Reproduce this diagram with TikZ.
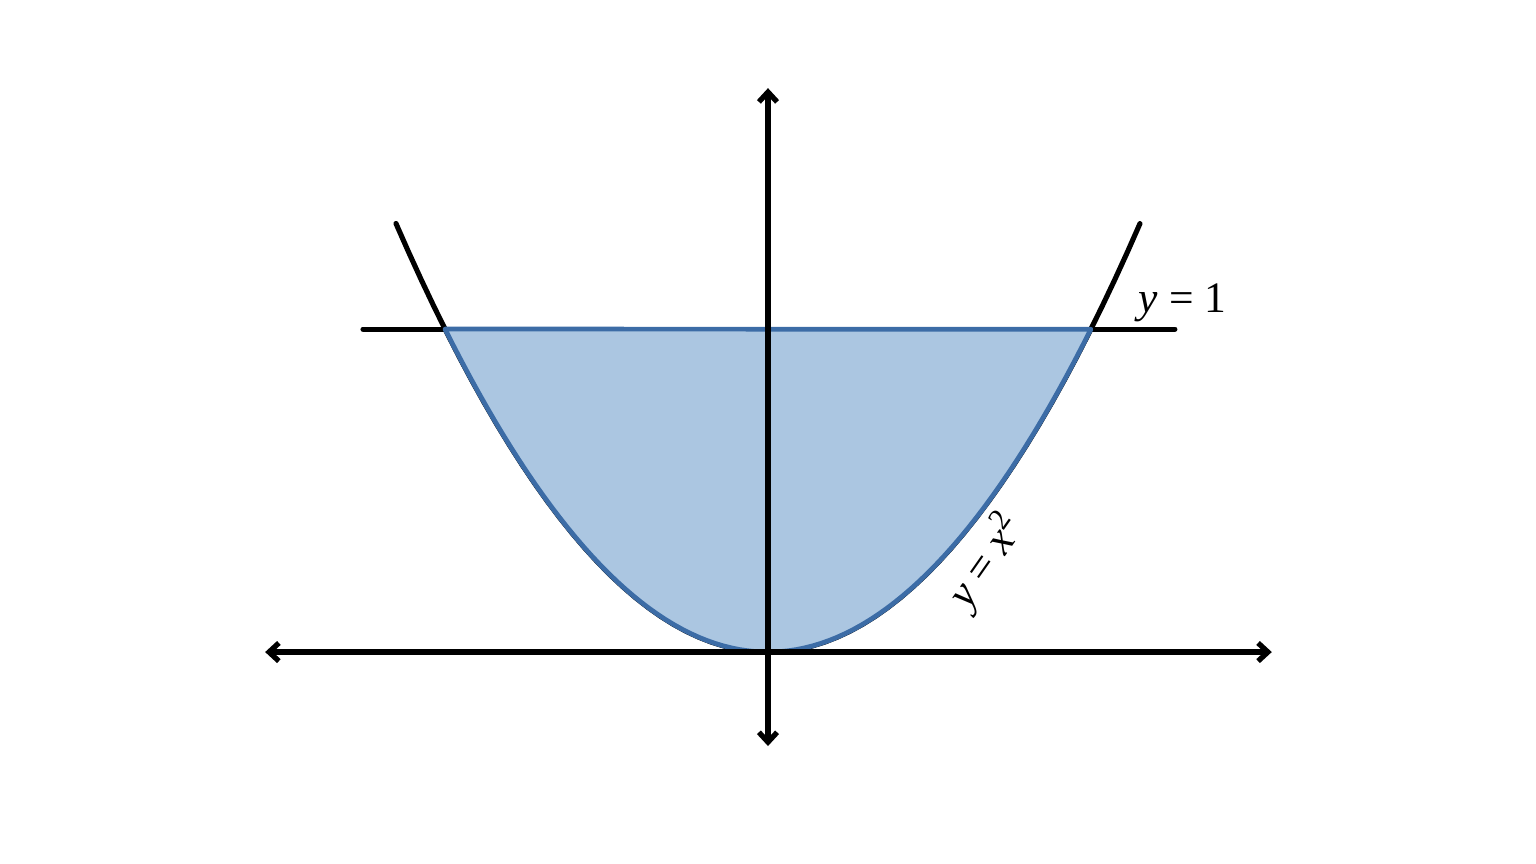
\documentclass[tikz,border=0pt]{standalone}
\usepackage{fontspec}
\setmainfont{Liberation Serif}
\usepackage{xcolor}
\usepackage{tikz}
\usetikzlibrary{arrows.meta}

\definecolor{areafill}{HTML}{ABC6E1}
\definecolor{areaedge}{HTML}{3C6CA6}

\begin{document}
\begin{tikzpicture}[
    x=3cm, y=3cm,
    axis/.style={{Straight Barb[length=2.6pt, width=4.8pt]}-{Straight Barb[length=2.6pt, width=4.8pt]}, line width=1.4pt, line cap=round},
    curve/.style={line width=1.35pt, line cap=round},
    region/.style={fill=areafill, draw=areaedge, line width=1.25pt, line join=round},
    lbl/.style={font=\fontsize{11.5}{13}\selectfont, inner sep=0pt},
]
    \useasboundingbox (-2.378,-0.656) rectangle (2.378,2.019);

    % axis ends
    \coordinate (xl) at (-1.557,0);
    \coordinate (xr) at (1.560,0);
    \coordinate (yb) at (0,-0.291);
    \coordinate (yt) at (0,1.746);
    \coordinate (hl) at (-1.254,1);
    \coordinate (hr) at (1.260,1);

    % parabola and the line y = 1
    \draw[curve] plot[domain=-1.152:1.152, samples=60] (\x,{\x*\x});
    \draw[curve] (hl) -- (hr);

    % shaded region
    \draw[region] plot[domain=-1:1, samples=80] (\x,{\x*\x}) -- cycle;

    % axes
    \draw[axis] (xl) -- (xr);
    \draw[axis] (yb) -- (yt);

    % labels
    \node[lbl, anchor=base west] (lineone) at (1.146,1.050) {\textit{y} = 1};
    \node[lbl, rotate=55] (parab) at (0.676,0.282) {\textit{y} = \textit{x}\textsuperscript{2}};
\end{tikzpicture}
\end{document}
